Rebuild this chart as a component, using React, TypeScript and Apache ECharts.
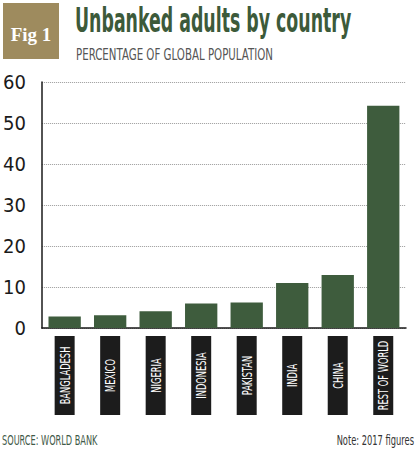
import React, { useEffect, useRef } from "react";
import * as echarts from "echarts";

const categories = ["BANGLADESH", "MEXICO", "NIGERIA", "INDONESIA", "PAKISTAN", "INDIA", "CHINA", "REST OF WORLD"];
const values = [2.8, 3.1, 4.1, 6.0, 6.2, 11.0, 12.9, 54.2];
const yTicks = [0, 10, 20, 30, 40, 50, 60];

const TITLE = "Unbanked adults by country";
const SUBTITLE = "PERCENTAGE OF GLOBAL POPULATION";
const SOURCE = "SOURCE: WORLD BANK";
const NOTE = "Note: 2017 figures";
const FIG = "Fig 1";

const NARROW = "'DejaVu Sans Condensed', 'DejaVu Sans', sans-serif";

export default function App() {
  const ref = useRef<HTMLDivElement>(null);
  useEffect(() => {
    document.body.style.margin = "0";
    if (!ref.current) return;
    const chart = echarts.init(ref.current, null, { renderer: "svg" });
    chart.setOption({
      animation: false,
      backgroundColor: "#ffffff",
      grid: { left: 39, right: 11, top: 82, bottom: 122, containLabel: false },
      xAxis: {
        type: "category",
        data: categories,
        axisLine: { show: true, lineStyle: { color: "#1a1a1a", width: 1.5 } },
        axisTick: { show: false },
        axisLabel: { show: false },
      },
      yAxis: {
        type: "value",
        min: yTicks[0],
        max: yTicks[yTicks.length - 1],
        interval: 10,
        axisLine: { show: true, lineStyle: { color: "#1a1a1a", width: 1.5 } },
        axisTick: { show: false },
        axisLabel: {
          margin: 16,
          color: "#1a1a1a",
          fontFamily: NARROW,
          fontSize: 20,
        },
        splitLine: { show: true, lineStyle: { color: "#9a9a9a", type: [1, 1], width: 1 } },
      },
      series: [
        {
          type: "bar",
          data: values,
          barWidth: "71%",
          itemStyle: { color: "#3e5c3d" },
        },
        {
          type: "custom",
          silent: true,
          clip: false,
          data: categories.map((c, i) => [i, 0]),
          renderItem: (params: any, api: any) => {
            const idx = api.value(0);
            const p = api.coord([idx, 0]);
            const top = p[1] + 8;
            return {
              type: "group",
              children: [
                {
                  type: "rect",
                  shape: { x: p[0] - 10, y: top, width: 20, height: 79 },
                  style: { fill: "#1c1c1c" },
                },
                {
                  type: "text",
                  x: p[0] + 0.5,
                  y: top + 39.5,
                  rotation: Math.PI / 2,
                  scaleX: 0.66,
                  style: {
                    text: categories[idx],
                    fill: "#ffffff",
                    font: `14px ${NARROW}`,
                    textAlign: "center",
                    textVerticalAlign: "middle",
                  },
                },
              ],
            };
          },
        },
      ],
      graphic: [
        { type: "rect", shape: { x: 3, y: 3, width: 56, height: 56 }, style: { fill: "#9e8b5e" } },
        {
          type: "text",
          x: 31,
          y: 34,
          style: {
            text: FIG,
            fill: "#ffffff",
            font: "bold 19px 'Liberation Serif', 'DejaVu Serif', serif",
            textAlign: "center",
            textVerticalAlign: "middle",
          },
        },
        {
          type: "text",
          x: 75,
          y: 20,
          scaleX: 0.585,
          style: {
            text: TITLE,
            fill: "#3c5a3a",
            font: `bold 33px ${NARROW}`,
            textAlign: "left",
            textVerticalAlign: "middle",
          },
        },
        {
          type: "text",
          x: 76,
          y: 55,
          scaleX: 0.76,
          style: {
            text: SUBTITLE,
            fill: "#555555",
            font: `15px ${NARROW}`,
            textAlign: "left",
            textVerticalAlign: "middle",
          },
        },
        {
          type: "text",
          x: 2,
          y: 440,
          scaleX: 0.65,
          style: {
            text: SOURCE,
            fill: "#3f5a48",
            font: `14px ${NARROW}`,
            textAlign: "left",
            textVerticalAlign: "middle",
          },
        },
        {
          type: "text",
          x: 414,
          y: 440,
          scaleX: 0.66,
          style: {
            text: NOTE,
            fill: "#333333",
            font: `14px ${NARROW}`,
            textAlign: "right",
            textVerticalAlign: "middle",
          },
        },
      ],
    });
    return () => chart.dispose();
  }, []);
  return <div ref={ref} style={{ width: 417, height: 450 }} />;
}
